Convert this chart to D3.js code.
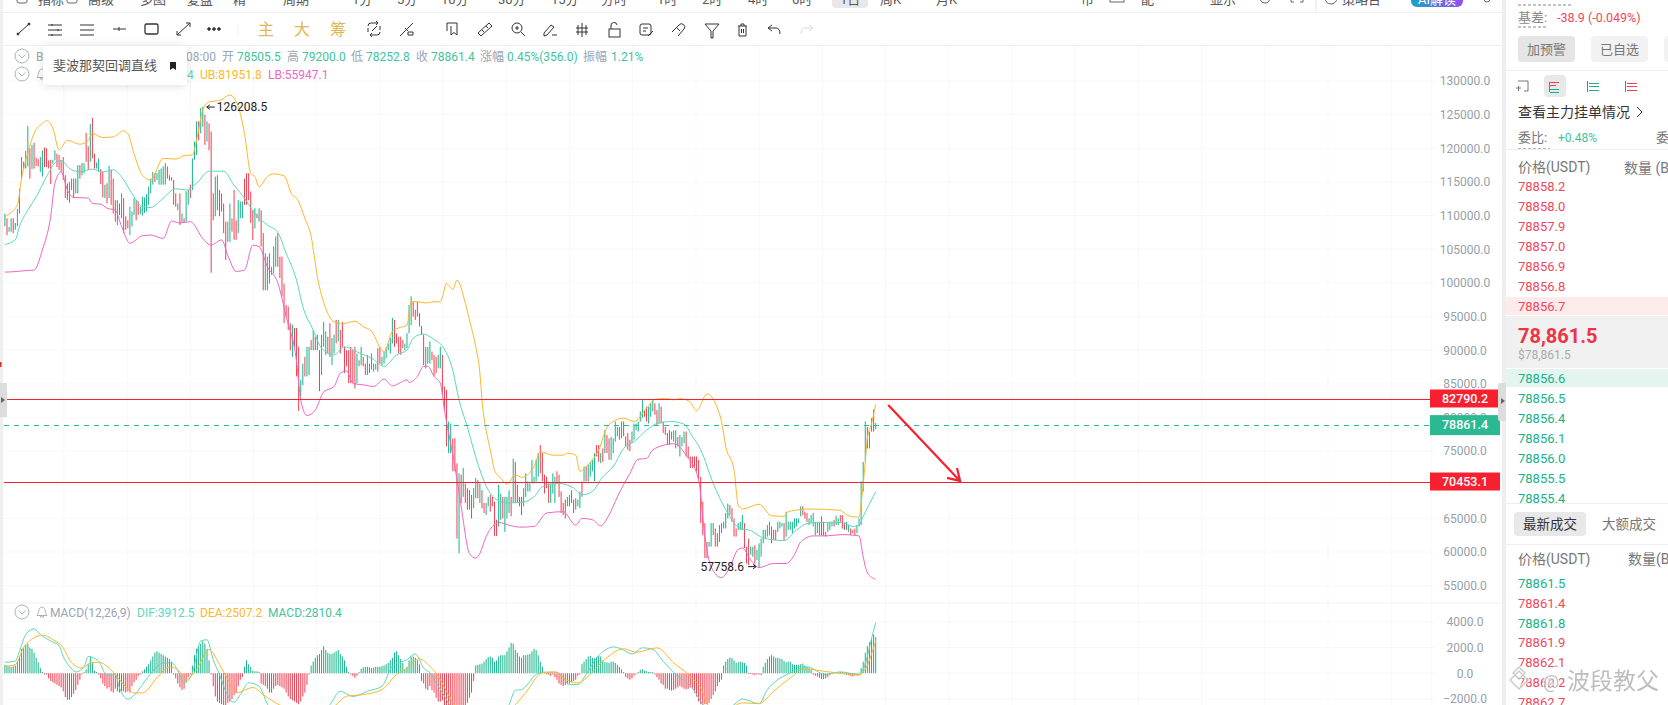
<!DOCTYPE html>
<html><head><meta charset="utf-8">
<script src="https://cdn.jsdelivr.net/npm/d3@7/dist/d3.min.js"></script>
<style>
html,body{margin:0;padding:0;background:#fff;overflow:hidden}
svg{display:block}
text{font-family:Roboto,"Noto Sans CJK SC",sans-serif}
</style></head><body><svg id="c" width="1668" height="705"></svg>
<script>
// ---------- data (prices in thousands USDT, MACD in thousands) ----------
const priceTicks=[130,125,120,115,110,105,100,95,90,85,80,75,70,65,60,55];
const macdTicks=[4,2,0,-2];
const barHigh=[110.3,109.6,108.3,109.6,109.6,108.9,111,114,118.7,118,
119.6,123.3,120,120.5,120.8,118.6,118.4,118.7,119.7,120.1,
120,118.2,118.3,118.3,119.7,119.2,119,118.2,118.7,116,
114.8,115,115.5,115.5,115.5,117.5,117.5,117.8,117.8,122.3,
120.3,123.6,124.5,119.2,117.9,118.5,116.9,116.5,114.6,114.8,
117.4,116.8,115.5,112.3,112.3,111.8,113.3,112.6,109.9,109.3,
111.3,110.6,112.6,112.3,112.1,111.3,112.8,112.7,113.2,114.3,
115.5,116.5,116.3,116.3,116.8,117,117.3,117.8,117.3,116,
115.7,115.3,113.3,111.8,113.3,110.3,109.6,113.6,113.8,114.6,
118.5,121,124,124,126,126.2,125,124,123.7,122.5,
113.3,115.8,116,113.8,113.3,111.8,109.1,109.1,111.8,109.6,
113.8,109.3,112.3,112.1,112.1,115.5,116.3,116.3,113.6,110.8,
111.1,110.3,111.1,110.8,107.4,104.4,103.9,104.4,102.4,105.4,
106.9,107.4,103.9,103.9,99.9,96.7,96.5,94,93.8,93.3,
93.3,90.5,85.6,88,89,90.5,90.5,91.5,93,92,
92.3,90,92.3,94.2,92.8,92,94,91.8,92.3,94.5,
94.5,93,94.2,90.5,90,90,90.5,90,90.5,89.5,
88.5,90.5,89,88,89.3,88,89.5,88,88,90.3,
90.5,89,89.8,90.5,91,91.8,94.8,94.5,92.5,92,
92,91.5,91,92.5,96.7,98,97.2,96,97.2,95.5,
93.6,92.3,90.5,90.5,91.3,89.8,89.3,89,89.3,90.5,
89.3,84.6,84.1,79.4,79.1,76.9,76.9,73.2,71.7,71.5,
72.5,70.2,69.5,69.2,68.5,69.5,71,70.7,70.2,69.2,
67.3,67.3,68.2,68.5,68.2,67.5,64.8,70,68.7,68.2,
68.2,68.2,69.2,68.2,73.9,73.4,70,68.2,68.2,69.5,
71.7,70.5,70.2,73.7,71.2,73.7,74.7,75.9,74.7,71.5,
71.2,70.2,70.2,71.7,71.2,72,71.5,69,67.3,67.8,
68.2,68.5,69.2,67.8,68,67.8,69,70.5,72.7,72.7,
73,73.4,73.7,74.7,75.9,75.9,74.7,75.4,78.1,77.4,
76.9,77.1,76.9,79.4,78.6,78.6,79.4,79.4,77.2,77.7,
76.7,77.9,79.1,79.1,79.4,80.9,82.6,81.1,81.6,81.6,
82.1,82.6,82.1,81.1,82.1,81.6,79.4,78.6,77.7,78.1,
77.9,78.1,78.1,77.1,77.4,77.1,77.9,77.9,75.7,74.2,
74.2,74.2,74.2,73.7,71.2,67.5,64.3,61.5,61.5,64.3,
64.3,63.5,62.8,64,64.3,64.5,65.8,67.2,67,66.5,
65,63.5,64.3,64.5,65.5,64.3,60.8,62,60.8,60.8,
61,60.3,61.3,62,63.3,63.3,64,64.5,63.8,63.3,
63.3,64.5,64.5,64.3,64.3,66,64.5,64.5,64.5,65,
65,65,66.8,66.8,66,65.8,65,65.5,65.8,64.5,
64.5,64.5,65.3,64.5,63,64.3,64.5,64.5,64.8,65.4,
65,65.5,65.5,64.3,64.5,64,63.5,63.3,63.5,64,
65,70.5,73.4,79.4,78.6,77.9,79.9,81.2,79.2];
const barLow=[108.4,107.1,107.6,107.6,107.4,107.9,108.4,110.3,115.5,117,
117,117.3,115.5,116.9,117,117.4,117.3,116.5,115.8,117.2,
117.2,117,114.7,117.7,118.2,117.2,116.8,116.5,115.3,112.6,
112.3,111.9,113.8,112.6,113.3,113.3,115.5,116,116.3,118,
116.8,118,118.5,117,117,116.5,114.7,112.7,112.6,111.8,
112.6,111.6,110.3,109.1,108.6,110.1,109.6,107.4,107.9,108.1,
107.1,108.4,110.1,109.3,110.1,110.2,110,110.4,110.6,111.6,
113.3,114.6,115,115.3,114.6,114.6,114.6,114.6,115.5,115.2,
115.2,111.6,111.3,110.8,108.6,108.9,108.9,109.1,111.6,112.6,
113.8,118.3,119,121.2,122.2,123.2,120.5,121,119.7,101.5,
109.3,109.9,110.8,109.9,110.6,107.4,103.4,106.1,106.1,107.6,
106.4,106.4,107.4,109.6,109.6,111.6,111.6,112.3,108.9,106.4,
108.1,109.6,109.1,105.4,98.9,98.9,98.9,99.9,101.2,101.4,
102.4,102.4,100.7,98,94,95,93,90,89,90.5,
86.1,81,83.1,84.8,86.1,86.1,86.3,90,90,90,
90,83.9,86.3,90.5,89.3,89.5,89,87.8,89.5,91,
91.3,89.5,90.5,86.6,87.6,85.1,85.1,85.1,84.3,85.1,
87.6,87.8,87.6,86.3,86.3,86.6,87.1,86.8,87.1,86.8,
88,87.8,88,88.8,90,89.5,91,90.5,91,89.5,
89.3,90.3,90,90.3,92.5,93.7,95,94.5,95,93.5,
92.3,87.8,87.3,88,88,88.5,86.1,86.6,87.3,87.3,
83.4,81.1,75.7,74.7,74.7,72,72,62,59.8,67.3,
68.2,67.3,66.3,66.3,65,66.5,68,68,67.3,66.5,
65.8,65.5,66.8,66,66.8,62.4,62.4,63.8,64.8,65,
63,65,65.8,65.3,67.3,67.3,67.3,66.8,65.5,66.8,
68.2,69,69,70.2,70.2,70.5,71.2,71.7,70.5,68.7,
69.5,67.3,67.3,68.7,67.3,70.2,68.2,65.8,65.5,65,
66.8,66.8,67.3,65.8,66.3,66.8,66.5,68.2,70.5,70.5,
70.5,71.2,72,70.5,74.2,73.4,73.2,73.4,74.7,74.7,
73.7,73.7,74.7,76.4,77.2,76.7,76.9,77.2,75.7,75.2,
75,76.2,76.7,78.1,77.9,79.4,79.9,80.1,79.4,79.1,
80.1,80.9,80.4,78.9,79.1,79.1,77.7,77.4,75.9,75.9,
76.7,76.4,75.4,75.7,74.2,75.7,76.2,74.2,73.9,72.5,
72.5,72.7,72,70.7,64.3,62.5,59.1,59.1,60.8,60.8,
62.5,60.8,60.8,61.5,62.8,63.5,63.5,65,65.5,64.5,
62.3,62.3,63.3,63.3,63.3,60.6,58.3,58.1,59.6,59.3,
58.3,58.8,57.76,59.3,61.3,62,62.3,62.5,61.3,61.8,
61.8,63,63.5,63.8,61.8,62.3,63.3,63.3,62.8,63.5,
63.8,64.3,65.3,65.5,65,64.5,64,64.3,63.8,62.5,
62.8,62.5,62.5,62.4,62.3,63,63.3,63.8,63.8,64,
64,64.5,63.5,63.3,63.3,63,62.5,62.8,62.5,62.8,
63.8,64,69,73.4,75.4,75.4,77.9,77.9,78.25];
const barDirs=("GRGGRGGGGR"+"GGRGRRRGGR"+"RRRGGRRRRR"+"RGGRGGRGGR"+"RGRRGGRRGR"+"GRRRGRGRRR"+"GGGRRGGGGG"+"GGRGGGGGRR"+"RRRGRGRGGR"+"GGGRGGRGRR"+
"RGGRRRRGGR"+"RRGGGRRRRR"+"GRGRRGGGGG"+"GRRRRRRRGR"+"RRGGRGGRGR"+"GRGGGRRGGR"+"GRRRRRRRRG"+"GGRRGGGGGR"+"RGGGGGGRRR"+"RRGGGGRRRR"+
"RRGGGRRRGG"+"RRRGGRRRGR"+"GRRRRGGRGR"+"RGGRRRRGGR"+"GGGRGRRRRG"+"GGGGGGGRRR"+"RRGGGRRRRR"+"GGRRGGGRGR"+"GGGGRRGRGR"+"RGGGGGGRRR"+
"RGGGGGGRRG"+"GGRRGRRRRR"+"GGGRGGGRRR"+"RRRRRRRRGG"+"GRRGGGGGRR"+"RRGGGRRRGG"+"RGGGGGGGRR"+"RGGGRGGGGG"+"GGGRRRGGGG"+"GGRRRGGGRG"+"GRRRGGRRRG"+"GGGGRGGRG").split("");
const macdHist=[.65,.6,.55,.5,.55,.6,.9,1.3,1.9,2,
2.2,2.3,2,1.9,1.6,1.2,.85,.4,.1,-.1,
-.1,-.4,-.6,-.7,-.8,-.9,-1,-1.1,-1.4,-1.85,
-2.05,-2.05,-1.85,-1.6,-1.3,-.9,-.5,-.1,.1,.3,
.7,1.3,.8,.2,.1,-.1,-.4,-.8,-1,-1.2,
-1.1,-1.4,-1.5,-1.2,-1.4,-1.5,-1.4,-1.4,-1.5,-1.4,
-1.5,-1,-.7,-.5,-.2,-.1,.15,.3,.5,.7,
1,1.3,1.6,1.7,1.6,1.5,1.4,1.3,1.2,1.1,
.9,-.1,-.4,-.8,-1.1,-1.3,-1.2,-.7,-.3,-.1,
.6,1.4,1.9,2.1,2.3,2.5,2.3,1.9,1,-.1,
-1,-1.8,-2.2,-2.3,-2.4,-2.5,-2.5,-2.3,-2.2,-2,
-1.7,-1.5,-1,-.5,-.3,.5,1,.7,.5,.2,
.15,.15,.1,-.8,-.9,-1,-1.2,-1.5,-1.5,-1.2,
-1,-.9,-1,-1.1,-1.2,-1.5,-1.8,-2,-2.1,-2.2,
-2.3,-2.4,-2.2,-1.8,-1.5,-.9,-.1,.6,.9,1.2,
1.4,1.5,1.8,2.1,1.8,1.6,1.5,1.5,1.6,1.7,
1.8,1.5,1.3,1,.5,.1,-.1,-.2,-.35,-.2,
.1,.35,.45,.5,.5,.45,.4,.45,.5,.5,
.5,.55,.6,.7,.8,1,1.2,1.6,1.7,1.4,
1.1,.8,.3,.5,1,1.3,1.3,1.2,1,.7,
-.6,-.8,-1.2,-1.3,-1,-1.3,-1.5,-1.9,-2.2,-2.2,
-2.1,-2.6,-2.8,-3,-3.1,-3.1,-3,-2.9,-2.8,-2.7,
-2.7,-2.5,-2.3,-1.9,-1.5,-.6,.6,.65,.7,.75,
.9,1.1,1.25,1.3,1.2,.9,1,1.3,1.4,1.4,
1.4,1.7,2,2.35,2.3,1.8,1.6,1.3,1.2,1.4,
1.4,1.45,1.5,1.7,1.9,1.8,1.4,.9,.5,.05,
-.05,-.1,-.2,-.1,-.3,-.5,-.8,-.9,-1,-.9,
-.85,-.8,-.7,-.6,-.5,-.2,-.1,.7,.9,1.1,
1.3,1.35,1.2,1.15,1.25,1.35,1.3,1,.85,.85,
.8,.9,.9,.8,.65,.5,.3,.1,-.3,-.4,
-.5,-.4,-.2,-.05,.1,.25,.3,.2,.15,.1,
.1,.1,-.1,-.3,-.5,-.8,-.9,-1.2,-1.2,-1.3,
-1.35,-1.3,-1.2,-1.1,-1,-1.1,-1.2,-1.25,-1.2,-1.1,
-1.2,-1.5,-1.8,-2.2,-2.4,-2.45,-2.4,-2.4,-2.3,-2,
-1.7,-1.4,-1,-.7,-.5,.6,.9,1.1,1.2,1.2,
1,.8,.85,.9,.85,.8,.6,-.03,-.05,-.1,
-.15,-.1,-.1,-.15,.5,.8,1.1,1.3,1.4,1.3,
1.2,1.2,1.15,1.1,.95,.85,.9,.9,.7,.65,
.65,.65,.7,.75,.6,.5,.4,.25,-.1,-.2,
-.25,-.35,-.45,-.45,-.4,-.3,-.15,.05,.1,.1,
.1,.1,.1,-.05,-.1,-.15,-.2,-.25,-.15,-.1,
.05,.4,.9,1.6,2.1,2.4,2.7,3,2.81];
// Bollinger and MACD lines: [bar number, value] pairs
const bollUpper=[[0,109.9],[6,111.6],[8,115.5],[11,119.3],[14,122.2],[18,123.7],[20,124.1],[23,123],[26,119.8],[30,121.2],[36,120.6],[40,121.2],[42,122.2],[47,121.6],[52,121.7],[57,122.6],[59,122.2],[62,119.2],[66,116],[70,115.3],[76,118.5],[82,118.4],[86,118.9],[90,119],[92,121.2],[95,125.7],[98,126.9],[103,127.1],[108,127.9],[112,126.2],[115,122.2],[118,116.3],[120,115.8],[122,114.3],[126,115.8],[129,116.2],[134,115.9],[138,113],[140,112.6],[144,109.6],[147,106.9],[150,100.9],[154,96.2],[158,94.2],[162,93.9],[168,94.3],[172,93.5],[176,92.8],[182,89.7],[186,92.8],[190,93.4],[193,93.7],[195,97.2],[198,97.2],[202,97],[206,97.2],[209,97.2],[210,97.9],[212,99.9],[215,99],[217,100.4],[221,97],[223,94.5],[226,90.5],[228,86.6],[229,82.6],[231,78.1],[233,75.2],[235,72.2],[238,71],[241,70.1],[245,71.5],[248,71.1],[254,72.7],[257,74.9],[263,74.4],[268,74.4],[270,74.7],[274,74.4],[276,72],[279,72.7],[282,73.7],[286,75.9],[288,77.9],[292,79.4],[297,79.9],[302,79.4],[308,81.4],[312,82.7],[318,82.8],[321,82.6],[324,82.8],[329,82.3],[332,81],[337,83.5],[342,81.4],[344,79.4],[346,75.7],[350,72.2],[352,67],[354,66.4],[362,67.1],[368,65.4],[374,65.3],[376,66],[382,66.3],[386,66.4],[401,66.2],[402,66],[406,65.3],[410,65.2],[411,67.2],[413,73.4],[414,76.9],[416,79.1],[418,81.95]];
const bollMid=[[0,105.7],[5,106.4],[7,108.4],[11,110.8],[15,112.8],[20,115.8],[24,117.8],[27,118.2],[31,117],[36,116.5],[42,116.9],[47,116.5],[52,116.8],[57,115.3],[62,112.8],[66,111.3],[70,111.2],[76,112.6],[82,114],[87,113.8],[92,114.8],[98,116.6],[105,116.6],[110,114.5],[115,112.6],[120,110.3],[126,108.6],[131,107.5],[135,104.4],[140,100.4],[143,96.5],[148,93],[152,90.3],[158,89.3],[163,90.5],[170,89.6],[176,88.8],[182,87.6],[188,89.3],[193,90],[196,91.8],[201,92.4],[204,92],[207,91.4],[210,90.6],[215,87],[218,82.6],[222,78.6],[225,75.2],[228,72.2],[232,69.2],[236,67.8],[242,67.3],[248,67.4],[254,68.2],[258,69.7],[266,70.2],[273,69.5],[277,68.5],[282,69],[287,71.2],[292,72.7],[297,75.4],[302,76.4],[308,78.1],[313,79.1],[320,79.4],[326,79],[330,77.2],[334,75.2],[340,70.2],[346,66.3],[353,63.5],[358,63.2],[364,62.1],[374,61.7],[380,63.3],[386,64.3],[393,64.4],[402,64.4],[407,63.8],[410,64],[412,65.3],[418,68.95]];
const bollLower=[[0,101.6],[6,101.7],[9,101.8],[14,101.9],[18,104.9],[22,109.9],[24,114.8],[27,116.5],[30,113.8],[33,112.7],[40,112.6],[42,111.8],[46,111.7],[49,111.1],[53,110.8],[56,108.4],[60,105.9],[66,107],[70,107.1],[76,106.6],[80,109.2],[84,108.9],[89,109.1],[95,106.6],[99,105.6],[104,106.4],[107,104.1],[111,101.7],[115,101.9],[119,105.6],[122,105.4],[126,102.4],[131,100],[135,95],[140,88.3],[142,82.6],[145,80.3],[149,81.1],[153,83.8],[158,84.6],[161,86.6],[164,86.9],[167,85.1],[173,84.8],[177,84.6],[182,85.7],[186,84.7],[190,85.2],[193,85.6],[194,85.2],[198,86.1],[201,87.6],[203,87.6],[206,86.1],[209,85.1],[211,81.1],[216,72.7],[219,66.8],[223,59.8],[226,59.1],[228,59.8],[231,62.3],[234,63.8],[237,64.4],[242,64],[247,63.7],[254,63.8],[260,65.8],[268,66],[274,64],[277,65],[282,64.8],[286,63.9],[290,65.5],[294,68.2],[300,71.7],[304,73.8],[308,73.9],[311,75.2],[321,76.1],[327,74.4],[333,70.7],[336,62.3],[339,57.8],[344,56.2],[348,57.8],[352,60.4],[354,60.6],[358,58.8],[362,57.7],[369,58.3],[375,58.3],[379,59.6],[382,61.5],[388,62.4],[394,62.4],[402,62.6],[410,62.4],[412,59.3],[414,56.9],[418,55.95]];
const macdDif=[[0,.85],[5,.93],[7,1.7],[10,3],[14,3.44],[17,3],[22,2.5],[26,2.15],[28,1.3],[31,.54],[34,.1],[38,.5],[40,1.3],[45,.93],[49,-.18],[53,-.1],[55,-1.14],[59,-2],[63,-1.53],[66,-.88],[71,.16],[76,.8],[80,.8],[84,-.1],[86,-.75],[90,.03],[94,2.5],[97,2.6],[100,1.06],[103,-.1],[106,-1.4],[110,-2.25],[113,-1.66],[117,-.75],[122,-1],[126,-2.4],[130,-3.2],[138,-3.9],[146,-3.8],[152,-3.1],[156,-2.44],[161,-1.4],[167,-1.8],[174,-1.4],[181,-1],[186,.54],[193,1.06],[197,1.5],[201,.4],[204,.03],[207,-.75],[210,-1.5],[214,-2.6],[220,-3.6],[230,-4],[236,-3.4],[242,-2.44],[245,-1.32],[248,-1.27],[255,-.1],[259,.08],[265,.08],[268,-.36],[271,-.88],[275,-.88],[279,-.1],[284,1.19],[288,1.78],[292,2.04],[296,1.88],[301,1.5],[306,1.97],[311,1.84],[316,.93],[322,-.1],[330,-1.14],[334,-2.18],[337,-2.8],[343,-3.2],[350,-2.44],[354,-2],[362,-2.36],[366,-1.27],[370,-.62],[376,-.05],[385,.49],[394,-.1],[401,.1],[410,-.1],[412,.3],[414,1.3],[416,2.7],[418,3.91]];
const macdDea=[[0,.54],[5,.67],[9,2],[14,2.75],[18,2.96],[23,2.62],[28,1.97],[32,.8],[37,.41],[41,.8],[45,.85],[53,-.1],[57,-.88],[62,-1.53],[66,-1.53],[73,-.36],[79,.49],[83,.28],[87,-.49],[92,.28],[98,1.84],[103,.67],[107,-.49],[111,-1.53],[119,-1.11],[124,-1.66],[130,-2.3],[137,-2.8],[145,-3.1],[154,-3],[159,-2.44],[164,-1.78],[172,-1.66],[181,-1.27],[188,-.1],[193,.41],[199,1.11],[204,.54],[208,-.23],[212,-1.4],[216,-2.5],[225,-3.4],[236,-3.3],[245,-2.44],[250,-1.5],[258,.03],[264,.1],[268,-.36],[271,-.62],[275,-.75],[280,-.23],[287,.93],[297,1.9],[303,1.63],[313,1.97],[321,.8],[329,-.23],[334,-1.14],[338,-2.56],[345,-3],[354,-2.3],[362,-2.36],[369,-1.4],[376,-.49],[384,.34],[393,.16],[402,-.03],[410,-.15],[412,.1],[414,.6],[416,1.5],[418,2.51]];
const priceLevels=[{v:82.7902,t:"82790.2"},{v:70.4531,t:"70453.1"}];
const lastPrice={v:78.8614,t:"78861.4"};
const arrowBars=[424,458.5], arrowPrices=[81.86,70.57];
const asks=["78858.2","78858.0","78857.9","78857.0","78856.9","78856.8","78856.7"];
const bids=["78856.6","78856.5","78856.4","78856.1","78856.0","78855.5","78855.4"];
const trades=[["78861.5",1],["78861.4",0],["78861.8",1],["78861.9",0],["78862.1",0],["78862.2",0],["78862.7",0]];

// ---------- scales ----------
const C={g:"#17b389",r:"#f23f50",teal:"#5bd8bc",or:"#fcb72a",pk:"#ee66c6",grey:"#9aa5b1",ax:"#96a0ab",txt:"#3fc39b",grid:"#f7f8f8",red:"#f7202f"};
const xS=d3.scaleLinear().domain([0,418]).range([4.9,875.7]);
const yS=d3.scaleLinear().domain([130,55]).range([81,585.7]);
const ym=d3.scaleLinear().domain([4,-2]).range([621.7,699]);
const snap=v=>Math.round(v)+.5;
const svg=d3.select("#c");
const defs=svg.append("defs");
defs.append("clipPath").attr("id","pc").append("rect").attr("x",3).attr("y",46).attr("width",1430).attr("height",557);
defs.append("clipPath").attr("id","mc").append("rect").attr("x",3).attr("y",603).attr("width",1430).attr("height",102);
defs.append("clipPath").attr("id","panel").append("rect").attr("x",1506).attr("y",0).attr("width",162).attr("height",705);
const flt=defs.append("filter").attr("id","sh").attr("x","-20%").attr("y","-30%").attr("width","140%").attr("height","170%");
flt.append("feDropShadow").attr("dx",0).attr("dy",1).attr("stdDeviation",4).attr("flood-color","#000").attr("flood-opacity",.13);
const lg=defs.append("linearGradient").attr("id","ai").attr("x1",0).attr("x2",1);
lg.append("stop").attr("offset",0).attr("stop-color","#15a6c8");lg.append("stop").attr("offset",1).attr("stop-color","#9a4cf0");
const T=(g,s,xx,yy,o={})=>g.append("text").text(s).attr("x",xx).attr("y",yy).attr("font-size",o.s||12).attr("fill",o.c||"#333").attr("text-anchor",o.a||"start").attr("font-weight",o.w||400);

// ---------- grid ----------
const gridG=svg.append("g");
d3.range(28.3,680,30.34).forEach(i=>{if(xS(i)<1432)gridG.append("line").attr("x1",xS(i)).attr("x2",xS(i)).attr("y1",46).attr("y2",705).attr("stroke",C.grid)});
gridG.append("line").attr("x1",1431).attr("x2",1431).attr("y1",46).attr("y2",705).attr("stroke",C.grid);
priceTicks.forEach(p=>gridG.append("line").attr("x1",3).attr("x2",1436).attr("y1",yS(p)).attr("y2",yS(p)).attr("stroke",C.grid));
macdTicks.forEach(p=>gridG.append("line").attr("x1",3).attr("x2",1436).attr("y1",ym(p)).attr("y2",ym(p)).attr("stroke",C.grid));
gridG.append("line").attr("x1",3).attr("x2",1502).attr("y1",603).attr("y2",603).attr("stroke","#f3f3f3");

// ---------- axes ----------
const axP=svg.append("g").attr("transform","translate(1465,0)").call(d3.axisRight(yS).tickValues(priceTicks).tickSize(0).tickPadding(0).tickFormat(d=>d3.format(".1f")(d*1000)));
const axM=svg.append("g").attr("transform","translate(1465,0)").call(d3.axisRight(ym).tickValues(macdTicks).tickSize(0).tickPadding(0).tickFormat(d=>d3.format(".1f")(d*1000)));
[axP,axM].forEach(a=>{a.select(".domain").remove();a.selectAll("text").attr("font-size",12).attr("fill",C.ax).attr("text-anchor","middle").attr("x",0).style("font-family","Roboto")});

// ---------- candles ----------
const bars=barHigh.map((h,i)=>({i,h,l:barLow[i],d:barDirs[i],m:macdHist[i]}));
svg.append("g").attr("clip-path","url(#pc)").selectAll("rect").data(bars).join("rect")
 .attr("x",d=>xS(d.i)-.5).attr("width",1).attr("y",d=>yS(d.h)).attr("height",d=>Math.max(1,yS(d.l)-yS(d.h)))
 .attr("fill",d=>d.d==="G"?C.g:C.r);
// ---------- bollinger ----------
const lineOf=(sc)=>d3.line().x(d=>xS(d[0])).y(d=>sc(d[1])).curve(d3.curveMonotoneX);
const pl=svg.append("g").attr("clip-path","url(#pc)").attr("fill","none").attr("stroke-width",1);
pl.append("path").attr("d",lineOf(yS)(bollMid)).attr("stroke",C.teal);
pl.append("path").attr("d",lineOf(yS)(bollUpper)).attr("stroke",C.or);
pl.append("path").attr("d",lineOf(yS)(bollLower)).attr("stroke",C.pk);
// ---------- MACD ----------
const mg=svg.append("g").attr("clip-path","url(#mc)");
mg.selectAll("rect").data(bars).join("rect")
 .attr("x",d=>xS(d.i)-.5).attr("width",1)
 .attr("y",d=>d.m>=0?ym(d.m):ym(0)).attr("height",d=>Math.max(.8,Math.abs(ym(d.m)-ym(0))))
 .attr("fill",d=>d.m>=0?C.g:C.r);
const ml=mg.append("g").attr("fill","none").attr("stroke-width",1);
ml.append("path").attr("d",lineOf(ym)(macdDif)).attr("stroke",C.teal);
ml.append("path").attr("d",lineOf(ym)(macdDea)).attr("stroke",C.or);

// ---------- levels, labels ----------
const lv=svg.append("g");
priceLevels.forEach(l=>{
 lv.append("line").attr("x1",4).attr("x2",1432).attr("y1",snap(yS(l.v))).attr("y2",snap(yS(l.v))).attr("stroke",C.red).attr("stroke-width",1);
 lv.append("rect").attr("x",1430).attr("width",70).attr("y",yS(l.v)-9.2).attr("height",18).attr("fill",C.red);
 T(lv,l.t,1465,yS(l.v)+4.3,{c:"#fff",a:"middle",s:12.5,w:500});
});
lv.append("line").attr("x1",4).attr("x2",1436).attr("y1",snap(yS(lastPrice.v))).attr("y2",snap(yS(lastPrice.v))).attr("stroke","#2bb992").attr("stroke-width",1).attr("stroke-dasharray","5 5");
lv.append("rect").attr("x",1430).attr("width",70).attr("y",yS(lastPrice.v)-10).attr("height",20).attr("fill","#2bb992");
T(lv,lastPrice.t,1465,yS(lastPrice.v)+4.3,{c:"#fff",a:"middle",s:12.5,w:500});
// drawn arrow
const ax0=xS(arrowBars[0]),ay0=yS(arrowPrices[0]),ax1=xS(arrowBars[1]),ay1=yS(arrowPrices[1]);
const aw=svg.append("g").attr("stroke",C.red).attr("stroke-width",2.2).attr("fill","none");
aw.append("line").attr("x1",ax0).attr("y1",ay0).attr("x2",ax1).attr("y2",ay1);
aw.append("path").attr("d",`M${ax1-13},${ay1-3}L${ax1},${ay1}L${ax1-3},${ay1-13}`);
// high / low marks
const hi=svg.append("g");
T(hi,"126208.5",xS(95)+14,yS(126.2)+4.5,{s:12,c:"#222"});
const hx=xS(95), hy=yS(126.2)+.5, lx=xS(362), ly=yS(57.76)-.5;
hi.append("path").attr("d",`M${hx+4},${hy}h8M${hx+4},${hy}l3,-2.2M${hx+4},${hy}l3,2.2`).attr("fill","none").attr("stroke","#222");
T(hi,"57758.6",lx-15,ly+4,{s:12,c:"#222",a:"end"});
hi.append("path").attr("d",`M${lx-11},${ly}h8M${lx-3},${ly}l-3,-2.2M${lx-3},${ly}l-3,2.2`).attr("fill","none").attr("stroke","#222");

// ---------- legends ----------
const chev=(g,cx,cy)=>{g.append("circle").attr("cx",cx).attr("cy",cy).attr("r",7).attr("fill","#fff").attr("stroke","#aab3bb");
 g.append("path").attr("d",`M${cx-3.5},${cy-1.5}L${cx},${cy+2}L${cx+3.5},${cy-1.5}`).attr("fill","none").attr("stroke","#aab3bb")};
const bell=(g,cx,cy)=>g.append("path").attr("d",`M${cx-5},${cy+3.5}C${cx-3},${cy+2} ${cx-4},${cy-5} ${cx},${cy-5}C${cx+4},${cy-5} ${cx+3},${cy+2} ${cx+5},${cy+3.5}Z M${cx-1.5},${cy+3.5}v1.5h3v-1.5`).attr("fill","none").attr("stroke","#aab3bb");
const lgd=svg.append("g");
chev(lgd,22,56);chev(lgd,22,74);bell(lgd,42,74);
T(lgd,"B",36,60.5,{c:C.grey});
[["08:00",186,C.grey],["开",222,C.grey],["78505.5",237,C.txt],["高",287,C.grey],["79200.0",302,C.txt],["低",351,C.grey],["78252.8",366,C.txt],["收",416,C.grey],["78861.4",431,C.txt],["涨幅",480,C.grey],["0.45%(356.0)",507,C.txt],["振幅",583,C.grey],["1.21%",611,C.txt]]
 .forEach(a=>T(lgd,a[0],a[1],60.5,{c:a[2]}));
T(lgd,"4",187,78.5,{c:C.teal});
T(lgd,"UB:81951.8",200,78.5,{c:C.or});
T(lgd,"LB:55947.1",268,78.5,{c:C.pk});
chev(lgd,22,612);bell(lgd,42,612);
T(lgd,"MACD(12,26,9)",50,616.5,{c:C.grey});
T(lgd,"DIF:3912.5",137,616.5,{c:C.teal});
T(lgd,"DEA:2507.2",200,616.5,{c:C.or});
T(lgd,"MACD:2810.4",268,616.5,{c:"#47c29d"});
// tooltip
const tp=svg.append("g");
tp.append("rect").attr("x",43).attr("y",45).attr("width",144).attr("height",40).attr("rx",3).attr("fill","#fff").attr("filter","url(#sh)");
T(tp,"斐波那契回调直线",53,70,{s:13,c:"#555"});
tp.append("path").attr("d","M170,62h6v8l-3,-2l-3,2z").attr("fill","#222");

// ---------- chrome: top bars ----------
const topG=svg.append("g");
topG.append("rect").attr("x",0).attr("y",0).attr("width",3).attr("height",705).attr("fill","#efefef");
topG.append("line").attr("x1",3).attr("x2",1502).attr("y1",12.5).attr("y2",12.5).attr("stroke","#eee");
topG.append("line").attr("x1",3).attr("x2",1502).attr("y1",45.5).attr("y2",45.5).attr("stroke","#eee");
topG.append("rect").attr("x",832).attr("y",-6).attr("width",36).attr("height",14).attr("rx",4).attr("fill","#e8e8e8");
[["指标",38],["高级",88],["多图",140],["复盘",187],["精",233],["周期",283],["1分",352],["5分",397],["10分",441],["30分",498],["15分",551],["分时",601],["1时",657],["2时",702],["4时",748],["6时",792],["1日",840],["周K",880],["月K",936],["币",1081],["配",1141],["显示",1210],["策略台",1342]]
 .forEach(a=>T(topG,a[0],a[1],3.5,{s:13,c:"#555"}));
topG.append("line").attr("x1",1316).attr("x2",1316).attr("y1",0).attr("y2",12).attr("stroke","#e6e6e6");
topG.append("rect").attr("x",1411).attr("y",-10).attr("width",52).attr("height",17).attr("rx",6).attr("fill","url(#ai)");
T(topG,"AI解读",1437,3.5,{s:13,c:"#fff",a:"middle"});
const topIcons=topG.append("g").attr("fill","none").attr("stroke","#666");
topIcons.append("rect").attr("x",17).attr("y",-6).attr("width",10).attr("height",9).attr("rx",2);
topIcons.append("rect").attr("x",67).attr("y",-6).attr("width",10).attr("height",9).attr("rx",2);
topIcons.append("rect").attr("x",1110).attr("y",-6).attr("width",14).attr("height",8);
topIcons.append("circle").attr("cx",1265).attr("cy",-2).attr("r",5);
topIcons.append("path").attr("d","M1291,-2v4h3M1303,-2v4h-3");
topIcons.append("circle").attr("cx",1331).attr("cy",-2).attr("r",6);
topIcons.append("circle").attr("cx",1487).attr("cy",-1).attr("r",3);
// tool icons
const ic=svg.append("g").attr("fill","none").attr("stroke","#333").attr("stroke-width",1);
const P=(d,o)=>{const p=ic.append("path").attr("d",d);if(o)p.attr("stroke",o);return p};
P("M18,34L29,24");ic.append("circle").attr("cx",18).attr("cy",34).attr("r",1).attr("fill","#333");ic.append("circle").attr("cx",29).attr("cy",24).attr("r",1).attr("fill","#333");
P("M48,25h14M48,30h14M48,35h14M52,24v2M58,29v2M52,34v2");
P("M80,25h14M80,30h14M80,35h14");
P("M113,29h13M119,27v4");
ic.append("rect").attr("x",145).attr("y",24).attr("width",13).attr("height",10).attr("rx",1.5).attr("stroke-width",1.3);
P("M177,35L190,23M186,23h4v4M177,31v4h4");
[209,214,219].forEach(c=>ic.append("circle").attr("cx",c).attr("cy",29).attr("r",1.3).attr("fill","#333"));
ic.append("line").attr("x1",238).attr("x2",238).attr("y1",23).attr("y2",35).attr("stroke","#eef2f4");
[["主",266],["大",302],["筹",338]].forEach(a=>T(svg,a[0],a[1],35,{s:16,c:"#e0b656",a:"middle"}));
P("M368,26q0,-3 3,-3h6M380,32q0,3 -3,3h-6M376,21l2,2l-2,2M372,33l-2,2l2,2M372,31l5,-5M368,28v4M380,26v4");
P("M400,36L413,23M405,28l3,3M408,35h5v-3h-5z");
P("M449,23h8v12l-3,-2.5l-3,2.5v-9M449,23h-2v8");
P("M478,33l11,-10l3,3l-11,10zM482,30l2,2M486,26l2,2");
ic.append("circle").attr("cx",517).attr("cy",28).attr("r",5);P("M521,32l4,4M515,28h4M517,26v4");
P("M544,33l7,-8l3,2l-7,8l-3,1zM552,35h5");
P("M578,25v10M582,23v14M586,25v10M576,28h12M576,32h12");
ic.append("rect").attr("x",609).attr("y",29).attr("width",11).attr("height",8);P("M611,29v-3a3,3 0 0 1 6,-1");
ic.append("rect").attr("x",640).attr("y",24).attr("width",11).attr("height",11).attr("rx",2);P("M643,28h5M643,31h3M648,36l5,-5");
P("M672,32l7,-7a3,3 0 0 1 5,4l-6,7M676,27l4,4");
P("M705,24h14l-6,7v7h-2v-7z");
P("M738,26h9M741,26v-2h3v2M739,26v10h7v-10M741.5,29v4M743.5,29v4");
P("M768,28h8q4,0 4,6M768,28l4,-3M768,28l4,3");
P("M813,28h-8q-4,0 -4,6M813,28l-4,-3M813,28l-4,3","#d8dde0");

// ---------- side handles ----------
const hd=svg.append("g");
hd.append("rect").attr("x",0).attr("y",383).attr("width",7).attr("height",34).attr("fill","#dcdcdc");
hd.append("path").attr("d","M1,397l4,3l-4,3z").attr("fill","#666");
hd.append("rect").attr("x",0).attr("y",362).attr("width",1.5).attr("height",5).attr("fill","#f7202f");

// ---------- right panel ----------
const pn=svg.append("g").attr("clip-path","url(#panel)");
svg.append("rect").attr("x",1502).attr("y",0).attr("width",4).attr("height",705).attr("fill","#eee");
svg.append("rect").attr("x",1498).attr("y",383).attr("width",8).attr("height",38).attr("rx",2).attr("fill","#dcdcdc");
svg.append("path").attr("d","M1501,398l4,3l-4,3z").attr("fill","#666");
pn.append("line").attr("x1",1518).attr("x2",1572).attr("y1",5).attr("y2",5).attr("stroke","#888").attr("stroke-dasharray","3 2");
T(pn,"基差:",1518,22,{s:13,c:"#888"});
pn.append("line").attr("x1",1518).attr("x2",1548).attr("y1",27).attr("y2",27).attr("stroke","#888").attr("stroke-dasharray","3 2");
T(pn,"-38.9 (-0.049%)",1557,22,{s:12.5,c:"#f0485a"});
[[1518,"#e5e5e5","加预警"],[1591,"#f2f2f2","已自选"],[1664,"#f2f2f2",""]].forEach(b=>{
 pn.append("rect").attr("x",b[0]).attr("y",36).attr("width",57).attr("height",26).attr("rx",4).attr("fill",b[1]);
 T(pn,b[2],b[0]+28.5,54,{s:13,c:"#777",a:"middle"});});
pn.append("line").attr("x1",1506).attr("x2",1668).attr("y1",70.5).attr("y2",70.5).attr("stroke","#eee");
pn.append("rect").attr("x",1544).attr("y",75).attr("width",22).attr("height",22).attr("rx",4).attr("fill","#e8e8e8");
pn.append("path").attr("d","M1518,81h10v10h-4M1516,88h5M1518.5,86v5").attr("fill","none").attr("stroke","#777");
pn.append("path").attr("d","M1549.5,82v10").attr("fill","none").attr("stroke","#777");
pn.append("path").attr("d","M1550,89.5h9M1550,92.5h9").attr("fill","none").attr("stroke",C.g);
pn.append("path").attr("d","M1550,82.5h9M1550,85.5h6").attr("fill","none").attr("stroke",C.r);
pn.append("path").attr("d","M1587.5,81v11").attr("fill","none").attr("stroke","#777");
pn.append("path").attr("d","M1589,83.5h10M1589,86.5h10M1589,90.5h10").attr("fill","none").attr("stroke",C.g);
pn.append("path").attr("d","M1625.5,81v11").attr("fill","none").attr("stroke","#777");
pn.append("path").attr("d","M1627,83.5h10M1627,86.5h10M1627,90.5h10").attr("fill","none").attr("stroke",C.r);
T(pn,"查看主力挂单情况",1518,117,{s:14,c:"#333"});
pn.append("path").attr("d","M1637,107l5,5l-5,5").attr("fill","none").attr("stroke","#333");
T(pn,"委比:",1518,142,{s:13,c:"#777"});
T(pn,"+0.48%",1558,142,{s:12,c:C.txt});
T(pn,"委",1656,142,{s:13,c:"#777"});
pn.append("line").attr("x1",1518).attr("x2",1550).attr("y1",149).attr("y2",149).attr("stroke","#777").attr("stroke-dasharray","3 2");
pn.append("line").attr("x1",1506).attr("x2",1668).attr("y1",149.5).attr("y2",149.5).attr("stroke","#eee");
T(pn,"价格(USDT)",1518,172,{s:14,c:"#777"});
T(pn,"数量 (B",1624,173,{s:14,c:"#777"});
pn.append("rect").attr("x",1506).attr("y",297).attr("width",162).attr("height",18).attr("fill","#fdeaea");
asks.forEach((t,i)=>T(pn,t,1518,191+i*20,{s:13,c:"#f0485a"}));
pn.append("rect").attr("x",1506).attr("y",316).attr("width",162).attr("height",52).attr("fill","#f0f0f0");
T(pn,"78,861.5",1518,343,{s:20,c:"#ee3346",w:700});
T(pn,"$78,861.5",1518,359,{s:12,c:"#aaa"});
pn.append("rect").attr("x",1506).attr("y",369).attr("width",162).attr("height",18).attr("fill","#e4f5ef");
bids.forEach((t,i)=>T(pn,t,1518,383+i*20,{s:13,c:C.g}));
pn.append("line").attr("x1",1506).attr("x2",1668).attr("y1",503.5).attr("y2",503.5).attr("stroke","#eee");
pn.append("rect").attr("x",1514).attr("y",512).attr("width",72).attr("height",24).attr("rx",4).attr("fill","#e8e8e8");
T(pn,"最新成交",1550,529,{s:13.5,c:"#333",a:"middle"});
T(pn,"大额成交",1602,529,{s:13.5,c:"#777"});
pn.append("line").attr("x1",1506).attr("x2",1668).attr("y1",544.5).attr("y2",544.5).attr("stroke","#eee");
T(pn,"价格(USDT)",1518,564,{s:14,c:"#777"});
T(pn,"数量(B",1628,564,{s:14,c:"#777"});
trades.forEach((t,i)=>T(pn,t[0],1518,588+i*19.8,{s:13,c:t[1]?C.g:"#f0485a"}));
// watermark
const wm=svg.append("g").attr("opacity",.75);
wm.append("path").attr("d","M1510,680l9,-9l9,9l-9,9zM1519,667l6,6l-6,6l-6,-6z").attr("fill","none").attr("stroke","#fff").attr("stroke-width",4);
wm.append("path").attr("d","M1510,680l9,-9l9,9l-9,9zM1519,667l6,6l-6,6l-6,-6z").attr("fill","none").attr("stroke","#bbb").attr("stroke-width",1.5);
T(wm,"@",1543,688,{s:18,c:"#a8a8a8"}).attr("stroke","#fff").attr("stroke-width",2.5).attr("paint-order","stroke");
T(wm,"波段教父",1567,689,{s:23,c:"#a8a8a8"}).attr("stroke","#fff").attr("stroke-width",2.5).attr("paint-order","stroke");
</script></body></html>
